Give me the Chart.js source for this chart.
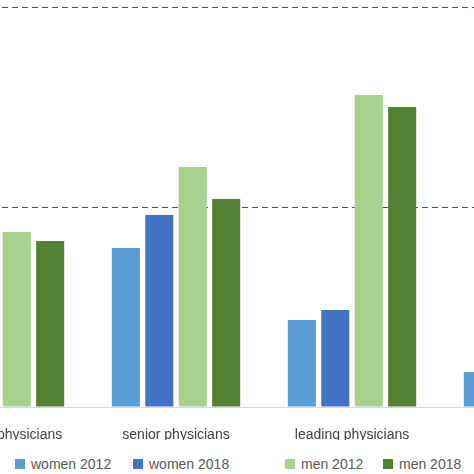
<!DOCTYPE html>
<html><head><meta charset="utf-8">
<script src="https://cdn.jsdelivr.net/npm/chart.js@4"></script>
<style>
html,body{margin:0;padding:0;background:#fff;}
#wrap{position:relative;width:474px;height:474px;overflow:hidden;}
#cw{position:absolute;left:-88px;top:0;width:704px;height:440px;}
#legend{position:absolute;top:456px;left:0;width:474px;height:18px;font:14px "Liberation Sans",sans-serif;color:#595959;}
#legend span{position:absolute;top:0;white-space:nowrap;}
#legend i{display:inline-block;width:10px;height:10px;margin-right:6px;vertical-align:0px;}
</style></head><body>
<div id="wrap">
<div id="cw"><canvas id="c"></canvas></div>
<div id="legend"></div>
</div>
<script>
const categories = ["assistant physicians","senior physicians","leading physicians","total"];
const seriesNames = ["women 2012","women 2018","men 2012","men 2018"];
const women2012 = [26.0, 15.9, 8.7, 3.5];
const women2018 = [29.0, 19.2, 9.7, 5.0];
const men2012 = [17.5, 24.0, 31.2, 12.0];
const men2018 = [16.6, 20.8, 30.0, 11.0];
const colors = ["#5b9bd5","#4472c4","#a9d18e","#548235"];
const legendX = [15, 133, 285, 383];

const data = [women2012, women2018, men2012, men2018];
new Chart(document.getElementById('c'), {
  type:'bar',
  data:{labels:categories, datasets:data.map((d,i)=>({label:seriesNames[i],data:d,backgroundColor:colors[i],categoryPercentage:0.76,barPercentage:0.84}))},
  options:{
    responsive:true, maintainAspectRatio:false, animation:false,
    layout:{padding:{top:7,left:0,right:0,bottom:0}},
    plugins:{legend:{display:false},tooltip:{enabled:false}},
    scales:{
      x:{grid:{display:false},border:{display:true,color:'#d9d9d9'},
         ticks:{color:'#404040',font:{size:14,family:'"Liberation Sans", sans-serif'},padding:12},
         afterFit(s){s.height=33;}},
      y:{min:0,max:40,ticks:{display:false,stepSize:20},border:{display:false},
         grid:{drawTicks:false,color:c=>c.tick&&c.tick.value===0?'rgba(0,0,0,0)':'#2f5597',lineWidth:1},
         afterFit(s){s.width=0;}}
    }
  }
});
// need dashed grid
Chart.defaults.font.family='"Liberation Sans", sans-serif';
const ch = Chart.getChart('c');
ch.options.scales.y.border.dash=[6,4];
ch.update();
const lg=document.getElementById('legend');
seriesNames.forEach((n,i)=>{const s=document.createElement('span');s.style.left=legendX[i]+'px';s.innerHTML='<i style="background:'+colors[i]+'"></i>'+n;lg.appendChild(s);});
</script>
</body></html>
